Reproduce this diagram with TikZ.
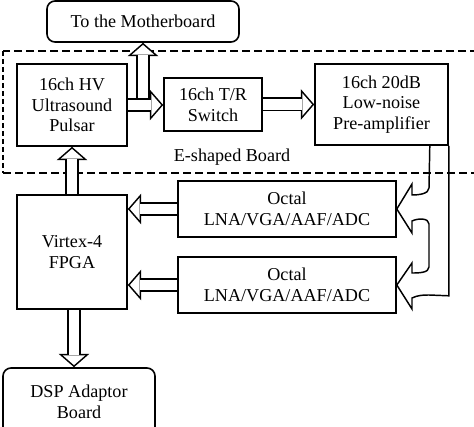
\documentclass[tikz,border=0pt]{standalone}
\usepackage{fontspec}
\setmainfont{Liberation Serif}
\usetikzlibrary{arrows.meta,calc,backgrounds}

\newcommand\diagfont{\fontsize{13.6}{15.6}\selectfont}
% hollow fat arrow: black outline, white inside
\newcommand\fatarrow[2]{%
  \draw[fatout] #1 -- #2;
  \draw[fatin] #1 -- #2;}

\tikzset{
  block/.style={draw, line width=1.2pt, inner sep=0pt, align=center, font=\diagfont},
  roundblock/.style={block, rounded corners=6pt},
  fatout/.style={line width=10.5pt, line cap=butt, -{Triangle[length=10pt,width=23pt,line width=0pt]}},
  fatin/.style={white, line width=8.1pt, line cap=butt, shorten >=1.59pt, -{Triangle[length=7.2pt,width=16.6pt,line width=0pt]}},
  wire/.style={line width=1.1pt},
  board/.style={line width=1pt, dash pattern=on 6pt off 3pt},
}

\begin{document}
\begin{tikzpicture}[x=0.75pt,y=0.75pt,yscale=-1]
\useasboundingbox (0,0) rectangle (474,427);

% Blocks
\node[roundblock, minimum width=144pt, minimum height=30.75pt] (mother) at (143,21.5) {To the Motherboard};
\node[block, minimum width=82.5pt, minimum height=61.5pt] (pulsar) at (72,105) {16ch HV\\Ultrasound\\Pulsar};
\node[block, minimum width=73.5pt, minimum height=39.75pt] (trsw) at (213,104.5) {16ch T/R\\Switch};
\node[block, minimum width=99.75pt, minimum height=60.75pt] (preamp) at (381.5,104.5) {16ch 20dB\\Low-noise\\Pre-amplifier};
\node[block, minimum width=163.5pt, minimum height=42pt] (octa) at (287,209) {Octal\\LNA/VGA/AAF/ADC};
\node[block, minimum width=163.5pt, minimum height=42pt] (octb) at (287,285) {Octal\\LNA/VGA/AAF/ADC};
\node[block, minimum width=82.5pt, minimum height=85.5pt] (fpga) at (72,252) {Virtex-4\\FPGA};
\node[roundblock, minimum width=114pt, minimum height=51pt] (dsp) at (79,402) {DSP Adaptor\\Board};

% Board label
\node[font=\diagfont] (eboard) at (232,157) {E-shaped Board};

\begin{pgfonlayer}{background}
% E-shaped board outline
\draw[board] (478,51) -- (3,51);
\draw[board] (3,173) -- (478,173);
\draw[line width=1.5pt, dash pattern=on 4pt off 2pt] (3,51) -- (3,173);

% Fat arrows
\coordinate (split) at ($(pulsar.east -| mother.south)+(0,-7)$);
\coordinate (fpgaout) at ($(fpga.south)+(2,0)$);
\fatarrow{(split)}{(mother.south)}
\fatarrow{(pulsar.east)}{(pulsar.east -| trsw.west)}
\fatarrow{(trsw.east)}{(trsw.east -| preamp.west)}
\fatarrow{(fpga.north)}{(pulsar.south)}
\fatarrow{(octa.west)}{(octa.west -| fpga.east)}
\fatarrow{(octb.west)}{(octb.west -| fpga.east)}
\fatarrow{(fpgaout)}{(fpgaout |- dsp.north)}
\end{pgfonlayer}

% Pre-amplifier outputs into the octal boards
\draw[wire] ($(preamp.south east)+(-19,0)$) -- (429,188)
  .. controls (429,194) and (418,195) .. (412,195) -- (412,184) -- (octa.east) -- (412,233) -- (412,221)
  .. controls (418,218) and (429,218) .. (429,224) -- (429,267)
  .. controls (429,273) and (418,273) .. (412,273) -- (412,263) -- (octb.east) -- (412,309) -- (412,298)
  .. controls (418,295) and (424,295) .. (429,295) -- ($(preamp.south east)+(0,150)$) -- (preamp.south east);

\end{tikzpicture}
\end{document}
